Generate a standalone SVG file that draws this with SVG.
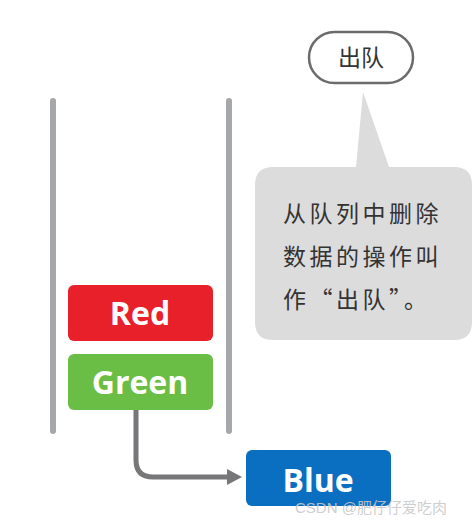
<svg xmlns="http://www.w3.org/2000/svg" width="474" height="523" viewBox="0 0 474 523">
<defs>
<style>
.wall{stroke:#a6a7aa;stroke-width:6;stroke-linecap:round;fill:none}
.lbl{font-family:"Open Sans","DejaVu Sans",sans-serif;font-weight:bold;font-size:32px;fill:#fff;text-anchor:middle}
.cj{font-family:"Noto Sans CJK SC",sans-serif;fill:#333;font-size:23px}
</style>
<marker id="ah" markerWidth="16" markerHeight="16" refX="3" refY="8" orient="auto" markerUnits="userSpaceOnUse"><path d="M0,0 L15,8 L0,16 Z" fill="#77777a"/></marker>
</defs>
<rect width="474" height="523" fill="#fff"/>
<g id="walls">
<line class="wall" x1="53" y1="101" x2="53" y2="431"/>
<line class="wall" x1="229" y1="101" x2="229" y2="431"/>
</g>
<g id="connectors">
<path d="M136,410 V460 Q136,477 153,477 H230" fill="none" stroke="#77777a" stroke-width="5" marker-end="url(#ah)"/>
</g>
<g id="red">
<rect x="68" y="285" width="145" height="56" rx="6" fill="#e8202a"/>
<text class="lbl" x="140" y="325">Red</text>
</g>
<g id="green">
<rect x="68" y="354" width="145" height="56" rx="6" fill="#6abd45"/>
<text class="lbl" x="140" y="394">Green</text>
</g>
<g id="blue">
<rect x="246" y="450" width="145" height="56" rx="6" fill="#0b6fc1"/>
<text class="lbl" x="318" y="492">Blue</text>
</g>
<g id="dequeue">
<rect x="309" y="32" width="104" height="51" rx="25.5" fill="#fff" stroke="#6b6b6b" stroke-width="2.5"/>
<text class="cj" x="361" y="66" text-anchor="middle" font-size="23" fill="#555">出队</text>
</g>
<g id="callout">
<path d="M273,167 H356 L363,92 L389,167 H454 Q472,167 472,185 V322 Q472,340 454,340 H273 Q255,340 255,322 V185 Q255,167 273,167 Z" fill="#dcdcdd"/>
<text class="cj" x="283" y="222" letter-spacing="3.5">从队列中删除</text>
<text class="cj" x="283" y="265" letter-spacing="3.5">数据的操作叫</text>
<text class="cj" x="283" y="308" letter-spacing="3.5">作“出队”。</text>
</g>
<text x="295" y="513" font-family="'Liberation Sans','Noto Sans CJK SC',sans-serif" font-size="15" fill="#c8c8c8" fill-opacity="0.9">CSDN @肥仔仔爱吃肉</text>
</svg>
